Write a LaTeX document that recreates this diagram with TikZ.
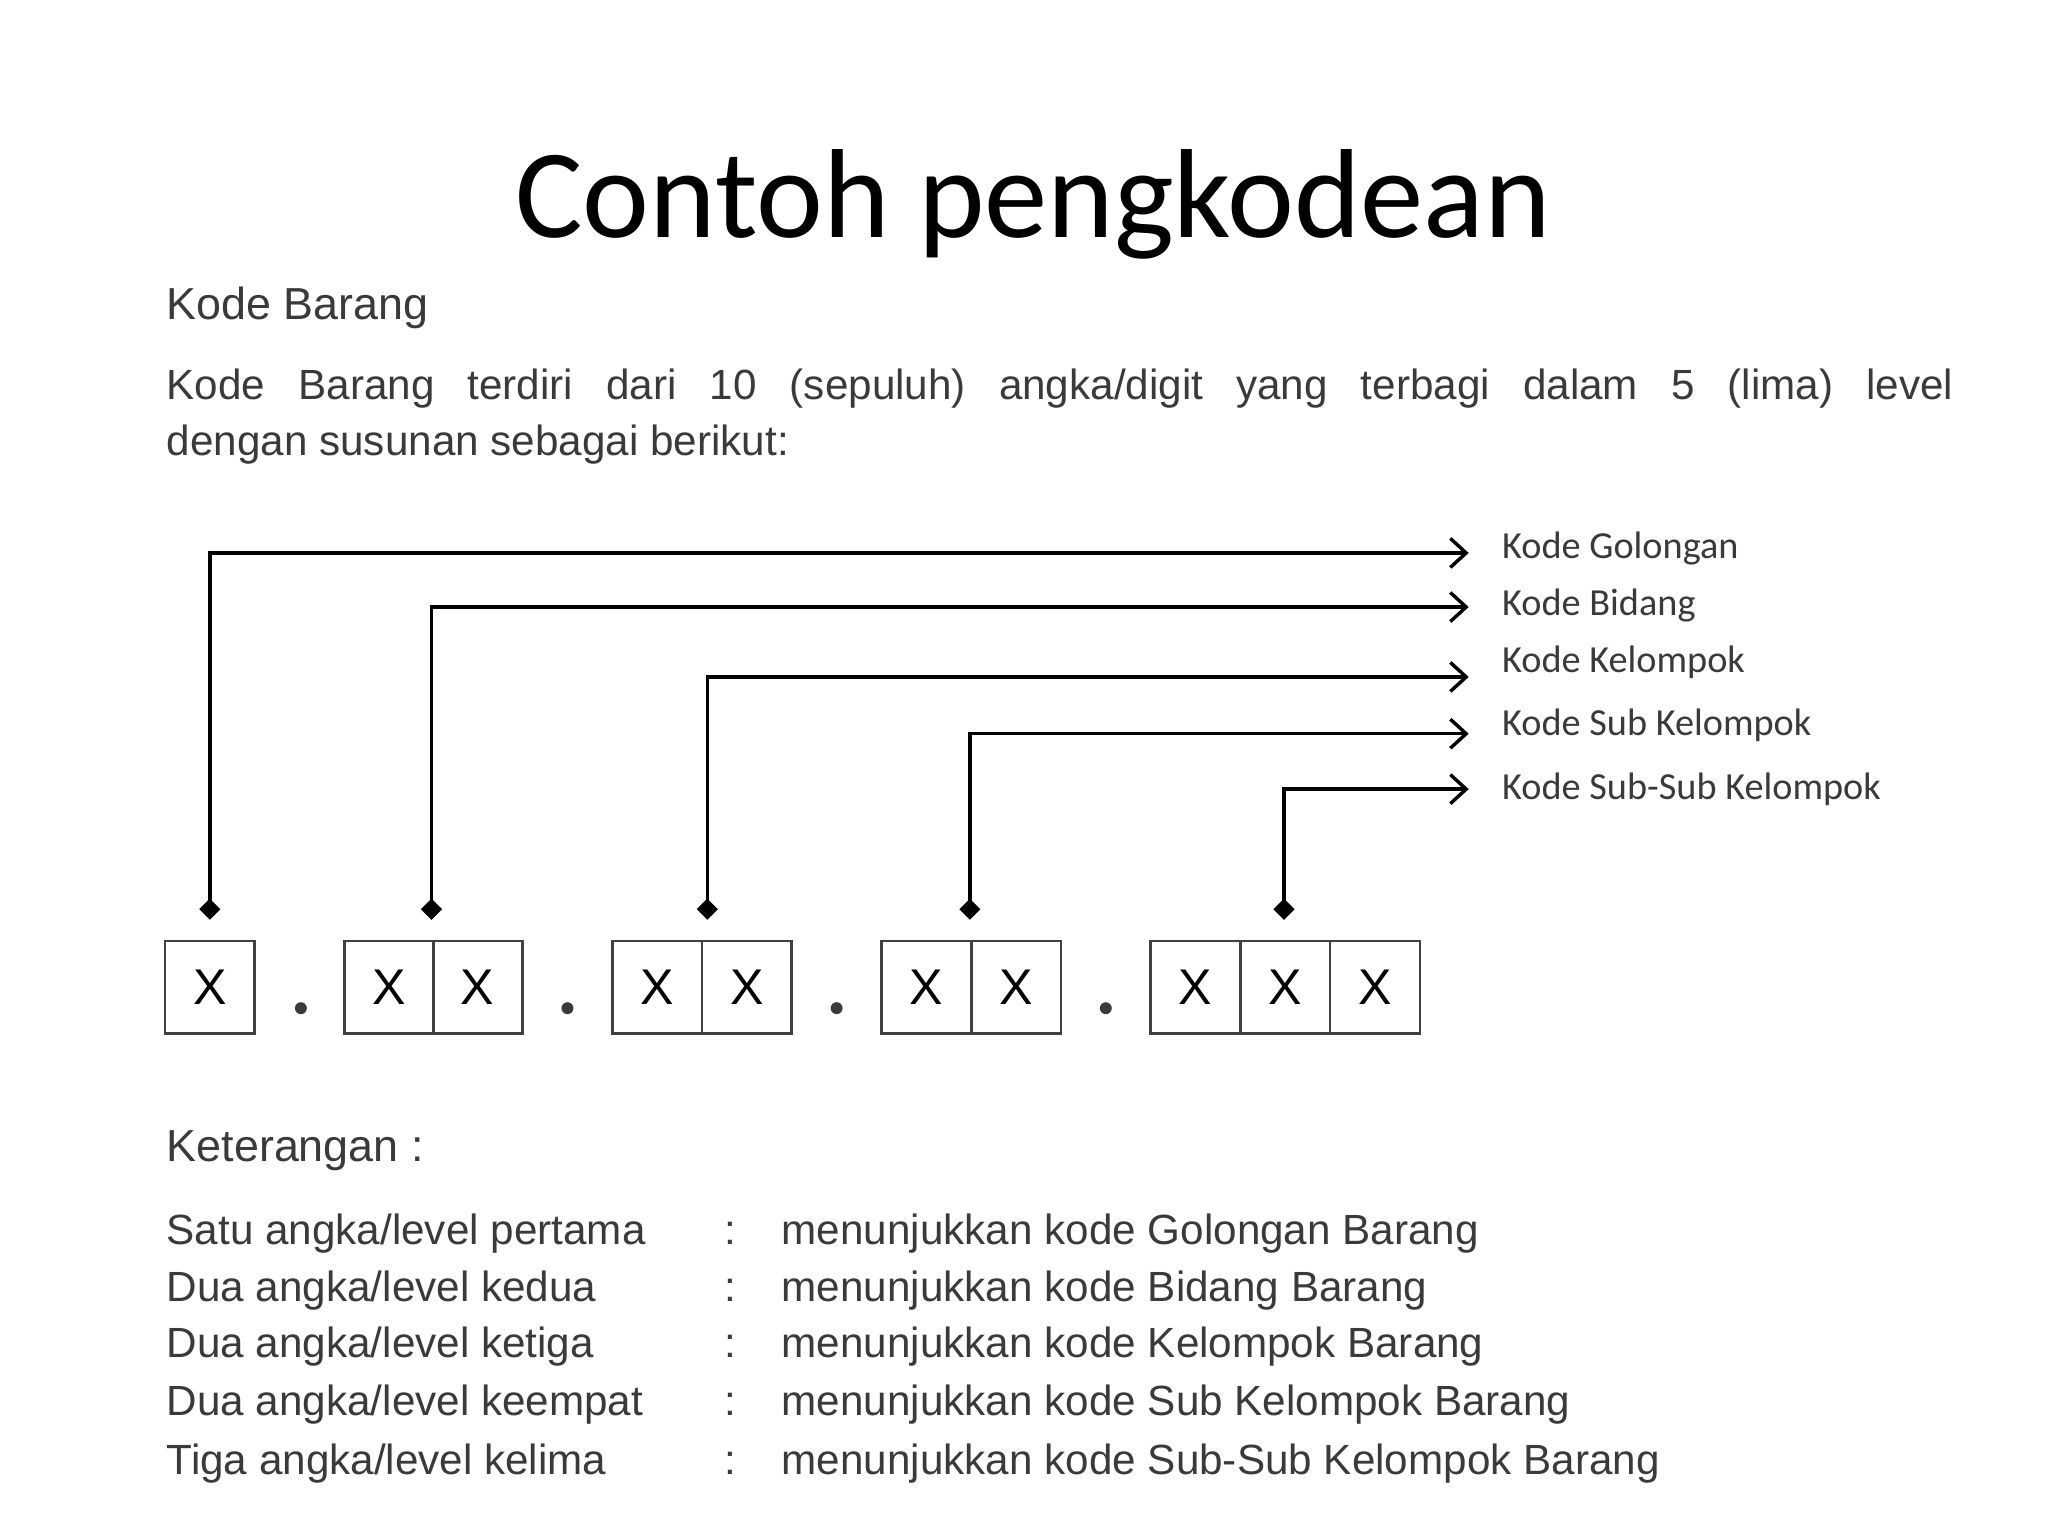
\documentclass[tikz,border=0pt]{standalone}
\usepackage{fontspec}
\setmainfont{Liberation Sans}
\newfontfamily\calfont{Carlito}
\usetikzlibrary{arrows.meta}
\definecolor{txt}{HTML}{3A3A3A}
\begin{document}
\begin{tikzpicture}[x=0.5pt,y=-0.5pt,
  body/.style={anchor=base west,inner sep=0,text=txt,font=\fontsize{16}{20}\selectfont},
  lab/.style={anchor=west,inner sep=0,text=txt,font=\calfont\fontsize{14.5}{18}\selectfont},
  cell/.style={draw=black!75,line width=1pt,minimum width=34pt,minimum height=35pt,inner sep=0,font=\fontsize{19}{22}\selectfont},
  conn/.style={line width=1.3pt,{Diamond[length=8pt,width=8pt]}-{Straight Barb[length=6pt,width=11pt,line width=1.3pt]}}]
\useasboundingbox (0,0) rectangle (1552,1164);
\node[anchor=base,inner sep=0,font=\calfont\fontsize{48}{56}\selectfont] (title) at (783,180) {Contoh pengkodean};
\node[body,font=\fontsize{17}{20}\selectfont] (h1) at (126,242) {Kode Barang};
\node[body] (p1) at (126,303) {\makebox[677pt][s]{Kode Barang terdiri dari 10 (sepuluh) angka/digit yang terbagi dalam 5 (lima) level}};
\node[body] (p2) at (126,345) {dengan susunan sebagai berikut:};
% boxes
\foreach \n/\x in {a/159,b1/295,b2/362,c1/498,c2/566,d1/702,d2/770,e1/906,e2/974,e3/1042}
  \node[cell] (\n) at (\x,748) {X};
\foreach \x in {228,430,634,838}
  \node[circle,fill=txt,inner sep=1.6pt] at (\x,764) {};
% labels
\node[lab] (l1) at (1138,416) {Kode Golongan};
\node[lab] (l2) at (1138,459) {Kode Bidang};
\node[lab] (l3) at (1138,502) {Kode Kelompok};
\node[lab] (l4) at (1138,550) {Kode Sub Kelompok};
\node[lab] (l5) at (1138,598) {Kode Sub-Sub Kelompok};
\foreach \x/\y/\l in {159/419/l1,327/460/l2,536/513/l3,735/556/l4,973/598/l5}{
  \coordinate (s\l) at (\x,697);
  \coordinate (e\l) at (1113,\y);
  \draw[conn] (s\l) -- (\x,\y) -- (e\l);
}
\node[body,font=\fontsize{17}{20}\selectfont] (k) at (126,880) {Keterangan :};
\node[body] (r1a) at (126,943) {Satu angka/level pertama};
\node[body] (r2a) at (126,986) {Dua angka/level kedua};
\node[body] (r3a) at (126,1029) {Dua angka/level ketiga};
\node[body] (r4a) at (126,1073) {Dua angka/level keempat};
\node[body] (r5a) at (126,1117) {Tiga angka/level kelima};
\foreach \i/\y in {1/943,2/986,3/1029,4/1073,5/1117}
  \node[body] (r\i c) at (549,\y) {:};
\node[body] (r1b) at (592,943) {menunjukkan kode Golongan Barang};
\node[body] (r2b) at (592,986) {menunjukkan kode Bidang Barang};
\node[body] (r3b) at (592,1029) {menunjukkan kode Kelompok Barang};
\node[body] (r4b) at (592,1073) {menunjukkan kode Sub Kelompok Barang};
\node[body] (r5b) at (592,1117) {menunjukkan kode Sub-Sub Kelompok Barang};
\end{tikzpicture}
\end{document}
